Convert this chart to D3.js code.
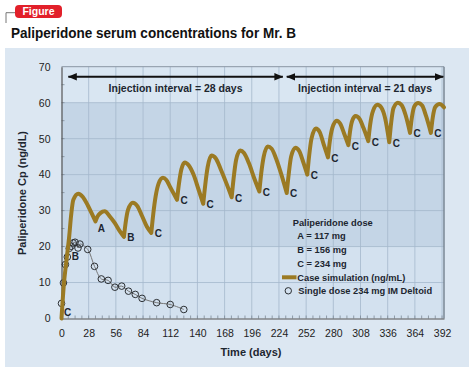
<!DOCTYPE html>
<meta charset="utf-8">
<style>
body { margin: 0; background: #fff; }
svg { font-family: "Liberation Sans", Arial, sans-serif; }
.tick text { font-size: 10.5px; fill: #222; }
.dose { font-size: 10px; font-weight: bold; fill: #1d2630; text-anchor: middle; }
.leg text { font-size: 9.3px; font-weight: bold; fill: #1d2630; }
</style>
<svg width="474" height="374"></svg>
<script src="https://d3js.org/d3.v7.min.js"></script>
<script>

var xTicks = [0, 28, 56, 84, 112, 140, 168, 196, 224, 252, 280, 308, 336, 364, 392];
var yTicks = [0, 10, 20, 30, 40, 50, 60, 70];

// case simulation (day, ng/mL)
var simDays = [0, 2.6, 4.6, 8, 9.8, 12.2, 17.3, 22, 27, 31.5,
  35, 37, 40, 44.5, 50, 55, 60,
  64.3, 66, 68.5, 73.5, 78, 83, 88,
  92.5, 94.5, 97, 100, 104.5, 108, 112, 116,
  119, 121, 123.5, 127, 131, 136, 141,
  146, 148, 150.5, 154.5, 159, 164, 170,
  175.3, 177.3, 179.8, 184, 188, 193, 198.5,
  203.8, 205.8, 208.3, 212.5, 216.5, 221, 226.5,
  232, 234, 236.5, 241, 245, 249,
  253.2, 255, 257.5, 262, 266, 270,
  274.5, 276.5, 279, 283.5, 287, 291,
  295.5, 297.5, 299.5, 303, 307, 311,
  316, 318, 321, 325.5, 329.5, 333.5,
  337.6, 339.6, 342, 346.5, 350.5, 354.5,
  359, 361, 363.5, 367.5, 371.5, 375.5,
  380.5, 382.5, 385, 389.5, 392, 394];
var simConc = [0, 10, 15, 23, 28.4, 33, 34.7, 33.8, 31.5, 29,
  27, 28.3, 29.3, 29.8, 28.3, 26.5, 24.3,
  22.7, 26.5, 30.2, 32.2, 31.3, 28.5, 25.5,
  23.8, 29, 34, 37.5, 39.1, 38.5, 36.5, 34.5,
  33, 37.5, 41.5, 43.4, 42.6, 40, 36,
  31.9, 37, 42, 45.3, 44.5, 41.5, 37.5,
  33.7, 39, 44, 46.7, 46, 43.2, 39,
  35.3, 40.5, 45, 47.8, 47.2, 44.5, 40,
  34.9, 40, 45, 47.5, 46.5, 43.5,
  40, 45, 50, 52.8, 51.8, 48.5,
  44.8, 49.5, 53, 55, 54.2, 51.5,
  48.2, 52.5, 55, 56.3, 55.5, 53,
  49.3, 54, 57.8, 59.4, 58.6, 55.5,
  49, 54.5, 58.5, 60, 59.3, 56.5,
  51.6, 56, 59, 59.9, 59.2, 56.3,
  51.6, 56, 58.8, 59.6, 59.3, 58.7];

// injections
var doseDays = [0, 8, 35, 64.3, 92.5, 119, 146, 175.3, 203.8, 232, 253.2, 274.5, 295.5, 316, 337.6, 359, 380.5];
var doseLabels = ["C", "B", "A", "B", "C", "C", "C", "C", "C", "C", "C", "C", "C", "C", "C", "C", "C"];

// single dose 234 mg IM deltoid
var singleDays = [0, 2, 4, 6, 8, 10, 12, 14, 17, 19, 27, 34, 41, 48, 55, 62, 69, 76, 83, 98, 112, 126];
var singleConc = [4.2, 9.9, 15, 17.1, 19.5, 20.1, 21.0, 21.2, 19.6, 20.7, 19.2, 14.5, 11.0, 10.6, 8.7, 9.0, 7.6, 6.7, 5.6, 4.4, 3.9, 2.5];

var intervals = [[7, 228, "Injection interval = 28 days"], [232, 393.3, "Injection interval = 21 days"]];

var legendDoses = ["A = 117 mg", "B = 156 mg", "C = 234 mg"];

var svg = d3.select("svg");

var x = d3.scaleLinear().domain([0, 394]).range([61.5, 444]);
var y = d3.scaleLinear().domain([0, 70]).range([318.5, 66.7]);

// header
svg.append("path").attr("d", "M6,23V12.7H15").attr("fill", "none").attr("stroke", "#777").attr("stroke-width", 1);
svg.append("rect").attr("x", 15).attr("y", 5).attr("width", 47).attr("height", 13).attr("rx", 4).attr("fill", "#e2202a");
svg.append("text").attr("x", 38.5).attr("y", 15.3).attr("text-anchor", "middle")
    .style("font-size", "10.5px").style("font-weight", "bold").attr("fill", "#fff").text("Figure");
svg.append("text").attr("x", 11).attr("y", 37.5)
    .style("font-size", "15.5px").style("font-weight", "bold").attr("fill", "#111")
    .attr("textLength", 285).attr("lengthAdjust", "spacingAndGlyphs")
    .text("Paliperidone serum concentrations for Mr. B");

// panel
svg.append("rect").attr("x", 5).attr("y", 48).attr("width", 464).attr("height", 319).attr("fill", "#dce7f2");

// plot bands
var bands = [[0, 20, "#d3e1ef"], [20, 60, "#c4d5e6"], [60, 70, "#d9e6f2"]];
svg.selectAll(".band").data(bands).enter().append("rect")
    .attr("x", x(0)).attr("width", x(394) - x(0))
    .attr("y", function(d) { return y(d[1]); })
    .attr("height", function(d) { return y(d[0]) - y(d[1]); })
    .attr("fill", function(d) { return d[2]; });

// grid
svg.selectAll(".vgrid").data(xTicks.slice(1)).enter().append("line")
    .attr("x1", function(d) { return x(d); }).attr("x2", function(d) { return x(d); })
    .attr("y1", y(0)).attr("y2", y(70))
    .attr("stroke", "#a5b8cb").attr("stroke-width", 0.8);
svg.selectAll(".hgrid").data(yTicks.slice(1, -1)).enter().append("line")
    .attr("x1", x(0)).attr("x2", x(394))
    .attr("y1", function(d) { return y(d); }).attr("y2", function(d) { return y(d); })
    .attr("stroke", "#a5b8cb").attr("stroke-width", 0.8);

// minor ticks
svg.selectAll(".mx").data(d3.range(7, 394, 7)).enter().append("line")
    .attr("x1", function(d) { return x(d); }).attr("x2", function(d) { return x(d); })
    .attr("y1", y(0)).attr("y2", y(0) - 3)
    .attr("stroke", "#7d8a97").attr("stroke-width", 0.8);
svg.selectAll(".my").data(d3.range(5, 70, 5)).enter().append("line")
    .attr("x1", x(0)).attr("x2", x(0) + 3)
    .attr("y1", function(d) { return y(d); }).attr("y2", function(d) { return y(d); })
    .attr("stroke", "#7d8a97").attr("stroke-width", 0.8);

// frame
svg.append("line").attr("x1", x(0)).attr("x2", x(394)).attr("y1", y(70)).attr("y2", y(70)).attr("stroke", "#8a96a3").attr("stroke-width", 1);
svg.append("line").attr("x1", x(394)).attr("x2", x(394)).attr("y1", y(70)).attr("y2", y(0)).attr("stroke", "#7a8794").attr("stroke-width", 1.5);

// axes
var gx = svg.append("g").attr("transform", "translate(0," + y(0) + ")")
    .call(d3.axisBottom(x).tickValues(xTicks).tickSize(0).tickPadding(11));
gx.select(".domain").attr("stroke", "#555").attr("stroke-width", 1.2);
var gy = svg.append("g").attr("transform", "translate(" + x(0) + ",0)")
    .call(d3.axisLeft(y).tickValues(yTicks).tickSize(0).tickPadding(11));
gy.select(".domain").attr("stroke", "#555").attr("stroke-width", 1.2);
svg.selectAll(".tick text").attr("font-family", null);

svg.append("text").attr("x", 251).attr("y", 355.5).attr("text-anchor", "middle")
    .style("font-size", "11px").style("font-weight", "bold").attr("fill", "#1d2630").text("Time (days)");
svg.append("text").attr("transform", "translate(26,193) rotate(-90)").attr("text-anchor", "middle")
    .style("font-size", "11px").style("font-weight", "bold").attr("fill", "#1d2630").text("Paliperidone Cp (ng/dL)");

// interval arrows
var defs = svg.append("defs");
defs.append("marker").attr("id", "ah").attr("viewBox", "0 -4 9 8")
    .attr("refX", 8.5).attr("refY", 0).attr("markerWidth", 9).attr("markerHeight", 8)
    .attr("markerUnits", "userSpaceOnUse").attr("orient", "auto-start-reverse")
  .append("path").attr("d", "M0,-3.7L9,0L0,3.7Z").attr("fill", "#111");

var arr = svg.selectAll(".arr").data(intervals).enter().append("g");
arr.append("line")
    .attr("x1", function(d) { return x(d[0]); }).attr("x2", function(d) { return x(d[1]); })
    .attr("y1", y(67.2)).attr("y2", y(67.2))
    .attr("stroke", "#111").attr("stroke-width", 2.2)
    .attr("marker-start", "url(#ah)").attr("marker-end", "url(#ah)");
arr.append("text")
    .attr("x", function(d) { return x((d[0] + d[1]) / 2); })
    .attr("y", y(64.1)).attr("dy", "0.35em").attr("text-anchor", "middle")
    .style("font-size", "10.5px").style("font-weight", "bold").attr("fill", "#1d2630")
    .text(function(d) { return d[2]; });

// single dose line + circles
var single = singleDays.map(function(d, i) { return [d, singleConc[i]]; });
svg.append("path").datum(single)
    .attr("d", d3.line().x(function(d) { return x(d[0]); }).y(function(d) { return y(d[1]); }).curve(d3.curveCatmullRom))
    .attr("fill", "none").attr("stroke", "#777").attr("stroke-width", 1);
svg.selectAll(".sd").data(single).enter().append("circle")
    .attr("cx", function(d) { return x(d[0]); }).attr("cy", function(d) { return y(d[1]); })
    .attr("r", 3.3).attr("fill", "none").attr("stroke", "#2b2f33").attr("stroke-width", 1);

// case simulation: one smooth piece per dosing interval, sharp at each injection
var breaks = doseDays.slice(2);
var segs = [], cur = [];
simDays.forEach(function(d, i) {
  var p = [d, simConc[i]];
  cur.push(p);
  if (breaks.indexOf(d) >= 0 && cur.length > 1) { segs.push(cur); cur = [p]; }
});
if (cur.length > 1) segs.push(cur);
var simLine = d3.line().x(function(d) { return x(d[0]); }).y(function(d) { return y(d[1]); }).curve(d3.curveMonotoneX);
svg.append("path")
    .attr("d", segs.map(function(s) { return simLine(s); }).join(""))
    .attr("fill", "none").attr("stroke", "#9b7a23").attr("stroke-width", 4)
    .attr("stroke-linejoin", "round").attr("stroke-linecap", "round");

// dose labels
var offs = { 0: [6, -6], 1: [6, 21], 2: [6, 7.5] };
svg.selectAll(".dose").data(doseDays).enter().append("text")
    .attr("class", "dose")
    .attr("x", function(d, i) { return x(d) + (offs[i] ? offs[i][0] : 7); })
    .attr("y", function(d, i) { return y(simConc[simDays.indexOf(d)]) + (offs[i] ? offs[i][1] : 1); })
    .attr("dy", "0.35em")
    .text(function(d, i) { return doseLabels[i]; });

// legend
var leg = svg.append("g").attr("class", "leg");
leg.append("text").attr("x", 292.7).attr("y", 222.7).attr("dy", "0.35em").text("Paliperidone dose");
leg.selectAll(".ld").data(legendDoses).enter().append("text")
    .attr("x", 297.3).attr("y", function(d, i) { return 236.2 + i * 13.6; }).attr("dy", "0.35em")
    .text(function(d) { return d; });
leg.append("line").attr("x1", 282).attr("x2", 296.5).attr("y1", 277.3).attr("y2", 277.3)
    .attr("stroke", "#9b7a23").attr("stroke-width", 4);
leg.append("text").attr("x", 297.3).attr("y", 277.3).attr("dy", "0.35em").text("Case simulation (ng/mL)");
leg.append("circle").attr("cx", 288.3).attr("cy", 290.8).attr("r", 3.2)
    .attr("fill", "none").attr("stroke", "#2b2f33").attr("stroke-width", 1);
leg.append("text").attr("x", 298.3).attr("y", 290.8).attr("dy", "0.35em").text("Single dose 234 mg IM Deltoid");

</script>
